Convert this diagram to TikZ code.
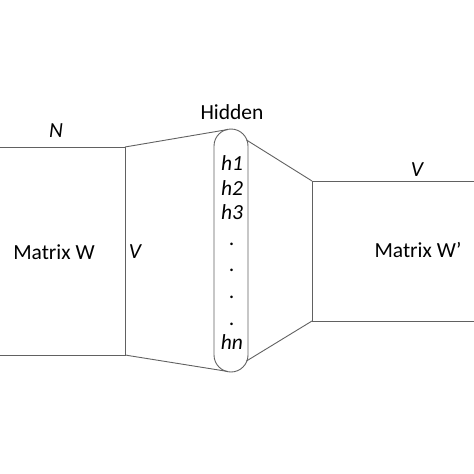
\documentclass[tikz,border=0pt]{standalone}
\usepackage{fontspec}
\setmainfont{Carlito}
\begin{document}
\begin{tikzpicture}[x=1pt,y=-1pt,
  edge/.style={draw=black!62,line width=0.9pt},
  lbl/.style={font=\fontsize{21.5}{24}\selectfont,inner sep=0pt},
  ilbl/.style={font=\fontsize{21.5}{24}\selectfont\itshape,inner sep=0pt}]
\useasboundingbox (0,0) rectangle (474,474);
% left matrix
\coordinate (wtl) at (0,147);
\coordinate (wtr) at (125,147);
\coordinate (wbr) at (125,355);
\coordinate (wbl) at (0,355);
\draw[edge] (wtl) -- (wtr) -- (wbr) -- (wbl);
% hidden capsule
\node[edge,rounded corners=17pt,minimum width=34pt,minimum height=243pt,inner sep=0pt] (hid) at (231,250.5) {};
\coordinate (htl) at (228,129.5);
\coordinate (hbl) at (228,371.5);
\coordinate (htr) at (246.5,140);
\coordinate (hbr) at (246.5,361);
% right matrix
\coordinate (rtl) at (312,181);
\coordinate (rtr) at (474,181);
\coordinate (rbl) at (312,321);
\coordinate (rbr) at (474,321);
\draw[edge] (rtr) -- (rtl) -- (rbl) -- (rbr);
% connectors
\draw[edge] (wtr) -- (htl);
\draw[edge] (wbr) -- (hbl);
\draw[edge] (htr) -- (rtl);
\draw[edge] (hbr) -- (rbl);
% labels
\node[lbl] (thid) at (232,112) {Hidden};
\node[ilbl] (tn) at (56,131) {N};
\node[lbl] (tw) at (54,252) {Matrix W};
\node[ilbl] (tv1) at (135,252) {V};
\node[ilbl] (tv2) at (417,170) {V};
\node[lbl] (tw2) at (418,250) {Matrix W’};
\node[ilbl] (h1) at (232,163) {h1};
\node[ilbl] (h2) at (232,188) {h2};
\node[ilbl] (h3) at (232,212) {h3};
\node[ilbl,anchor=base] (d1) at (232,245) {.};
\node[ilbl,anchor=base] (d2) at (232,271) {.};
\node[ilbl,anchor=base] (d3) at (232,298) {.};
\node[ilbl,anchor=base] (d4) at (232,325) {.};
\node[ilbl] (hn) at (232,342) {hn};
\end{tikzpicture}
\end{document}
